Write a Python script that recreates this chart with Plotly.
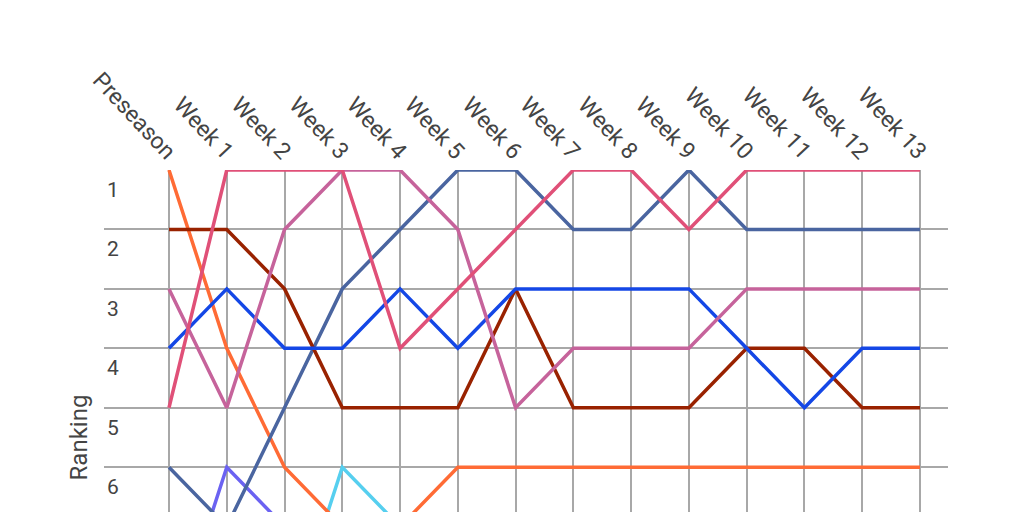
import plotly.graph_objects as go

weeks = ["Preseason", "Week 1", "Week 2", "Week 3", "Week 4", "Week 5", "Week 6",
         "Week 7", "Week 8", "Week 9", "Week 10", "Week 11", "Week 12", "Week 13"]

# Rankings per team (None = not visible / not ranked in the visible window)
team_orange = [1, 4, 6, 7, 7, 6, 6, 6, 6, 6, 6, 6, 6, 6]
team_darkred = [2, 2, 3, 5, 5, 5, 3, 5, 5, 5, 4, 4, 5, 5]
team_mauve = [3, 5, 2, 1, 1, 2, 5, 4, 4, 4, 3, 3, 3, 3]
team_blue = [4, 3, 4, 4, 3, 4, 3, 3, 3, 3, 4, 5, 4, 4]
team_crimson = [5, 1, 1, 1, 4, 3, 2, 1, 1, 2, 1, 1, 1, 1]
team_slate = [6, 7, 5, 3, 2, 1, 1, 2, 2, 1, 2, 2, 2, 2]
team_purple = [9, 6, 7, None, None, None, None, None, None, None, None, None, None, None]
team_cyan = [None, None, 9, 6, 7, None, None, None, None, None, None, None, None, None]

series = [
    ("Team A", team_purple, "#6B62F2"),
    ("Team B", team_cyan, "#56CFEF"),
    ("Team C", team_orange, "#FF6B35"),
    ("Team D", team_slate, "#4A65A0"),
    ("Team E", team_darkred, "#992200"),
    ("Team F", team_blue, "#1447E6"),
    ("Team G", team_mauve, "#C6639B"),
    ("Team H", team_crimson, "#E05078"),
]

x_idx = list(range(len(weeks)))

fig = go.Figure()
for name, vals, color in series:
    fig.add_trace(go.Scatter(
        x=x_idx, y=vals, mode="lines", name=name,
        line=dict(color=color, width=3.5), connectgaps=False,
    ))

rank_ticks = list(range(1, 11))

fig.update_layout(
    width=1024, height=760,
    margin=dict(l=96, r=84, t=162, b=63, autoexpand=False),
    paper_bgcolor="white", plot_bgcolor="white",
    showlegend=False,
    font=dict(family="Roboto", color="#444444"),
    xaxis=dict(
        side="top", range=[-1.125, 13.485],
        tickmode="array", tickvals=x_idx, ticktext=weeks,
        tickangle=47, tickfont=dict(size=23, color="#444444"),
        ticklabelshift=5,
        showgrid=True, gridcolor="#A8A8A8", gridwidth=2,
        zeroline=False, showline=False, ticks="",
        automargin=False, fixedrange=True,
    ),
    yaxis=dict(
        range=[10, 1], tickmode="array", tickvals=rank_ticks,
        ticktext=[str(r) for r in rank_ticks],
        ticklabelposition="inside bottom", ticklabelshift=-5,
        tickfont=dict(size=21, color="#444444"),
        showgrid=True, gridcolor="#A8A8A8", gridwidth=2,
        zeroline=False, showline=False, ticks="",
        title=dict(text="Ranking", font=dict(size=24, color="#444444"), standoff=12),
        automargin=False, fixedrange=True,
    ),
)

fig.write_html("out.html")
